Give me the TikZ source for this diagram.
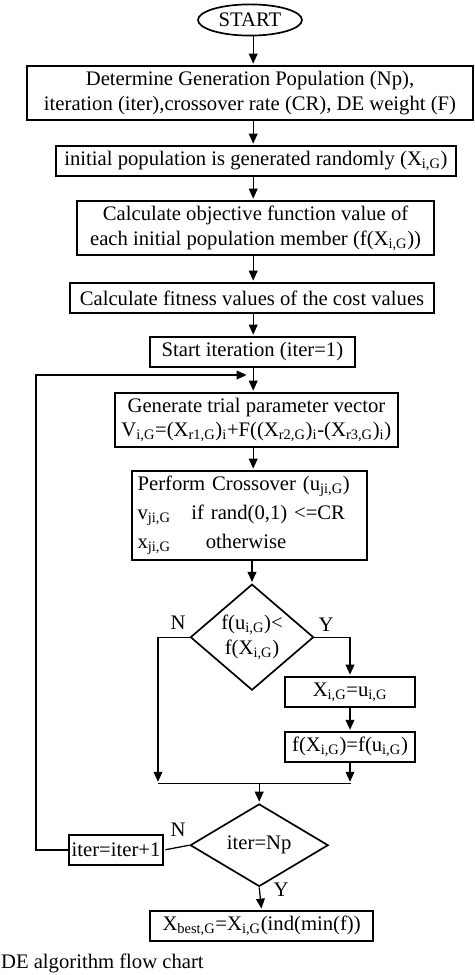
\documentclass[tikz,border=0pt]{standalone}
\usepackage{fontspec}
\setmainfont{Liberation Serif}
\usepackage{tikz}
\usetikzlibrary{shapes.geometric, arrows.meta, calc}

\begin{document}
\begin{tikzpicture}[>={Triangle[length=2.5mm,width=2.2mm]},shorten >=1pt,
	font=\fontsize{14.7}{17.6}\selectfont,
	box/.style={draw, line width=1.4pt, inner sep=1pt, minimum height=0.75cm, align=center},
	decision/.style={diamond, draw, line width=1.2pt, inner sep=0pt, align=center},
	flow/.style={->, line width=0.9pt},
	line/.style={line width=0.9pt}]
	\useasboundingbox (0,0) rectangle (11.85,-24.375);
	\coordinate (axis) at (6.33,0);
	\node[ellipse, draw, line width=1.2pt, minimum width=2.6cm, minimum height=0.78cm, inner sep=0pt] (start) at (6.25,-0.5) {START};
	\node[box, minimum width=11.15cm, minimum height=1.35cm] (params) at (6.25,-2.325) {Determine Generation Population (Np),\\iteration (iter),crossover rate (CR), DE weight (F)};
	\node[box, minimum width=10cm] (init) at (6.4,-4.025) {initial population is generated randomly (X\textsubscript{i,G})};
	\node[box, minimum width=8.93cm, minimum height=1.35cm] (objfun) at (6.39,-5.7) {Calculate objective function value of\\each initial population member (f(X\textsubscript{i,G}))};
	\node[box, minimum width=9.1cm] (fitness) at (6.3,-7.45) {Calculate fitness values of the cost values};
	\node[box, minimum width=5.13cm] (startit) at (6.31,-8.8) {Start iteration (iter=1)};
	\node[box, minimum width=7.08cm, minimum height=1.35cm] (trial) at (6.41,-10.5) {Generate trial parameter vector\\V\textsubscript{i,G}=(X\textsubscript{r1,G})\textsubscript{i}+F((X\textsubscript{r2,G})\textsubscript{i}-(X\textsubscript{r3,G})\textsubscript{i})};
	\node[box, minimum width=5.88cm, minimum height=2.23cm, inner xsep=4pt, text width=5.6cm, align=left] (cross) at (6.24,-12.89) {Perform Crossover (u\textsubscript{ji,G})\\[3pt]v\textsubscript{ji,G}\hspace{1em}if rand(0,1) <=CR\\[3pt]x\textsubscript{ji,G}\hspace{1.7em}otherwise};
	\node[decision, minimum width=3.08cm, minimum height=2.63cm] (cmp) at (6.3,-15.93) {f(u\textsubscript{i,G})<\\f(X\textsubscript{i,G})};
	\node[box, minimum width=3.25cm] (upd) at (8.75,-17.3) {X\textsubscript{i,G}=u\textsubscript{i,G}};
	\node[box, minimum width=3.25cm] (updf) at (8.75,-18.68) {f(X\textsubscript{i,G})=f(u\textsubscript{i,G})};
	\node[decision, minimum width=3.45cm, minimum height=1.85cm] (stop) at (6.48,-21.13) {iter=Np};
	\node[box, minimum width=2.35cm] (inc) at (2.9,-21.25) {iter=iter+1};
	\node[box, minimum width=5.58cm] (best) at (6.54,-23.15) {X\textsubscript{best,G}=X\textsubscript{i,G}(ind(min(f))};
	\node[anchor=base west, inner sep=0pt] (caption) at (0.02,-24.2) {DE algorithm flow chart};
	% branch labels
	\node (n1) at (4.45,-15.58) {N};
	\node (y1) at (8.15,-15.63) {Y};
	\node (n2) at (4.45,-20.75) {N};
	\node (y2) at (7.03,-22.25) {Y};
	% joins
	\coordinate (merge) at (6.2,-9.375);
	\coordinate (nleft) at (3.95,-19.58);
	\coordinate (nright) at (8.8,-19.58);
	% main column
	\draw[flow] (start.south -| axis) -- (params.north -| axis);
	\draw[flow] (params.south -| axis) -- (init.north -| axis);
	\draw[flow] (init.south -| axis) -- (objfun.north -| axis);
	\draw[flow] (objfun.south -| axis) -- (fitness.north -| axis);
	\draw[flow] (fitness.south -| axis) -- (startit.north -| axis);
	\draw[flow] (startit.south -| axis) -- (trial.north -| axis);
	\draw[flow] (trial.south -| axis) -- (cross.north -| axis);
	\draw[flow] (cross.south -| cmp) -- (cmp.north);
	% selection
	\draw[flow] (cmp.west) -| (nleft);
	\draw[flow] (cmp.east) -| (upd.north);
	\draw[flow] (upd.south) -- (updf.north);
	\draw[flow] (updf.south) -- (updf.south |- nright);
	\draw[line] (nleft) -- (nright);
	\draw[flow] (stop.north |- nright) -- (stop.north);
	% loop back
	\draw[line] (stop.west) -- (inc.east);
	\draw[flow] (inc.west) -| (0.9,-9.375) -- (merge);
	\draw[flow] (stop.south) -- (best.north);
\end{tikzpicture}
\end{document}
